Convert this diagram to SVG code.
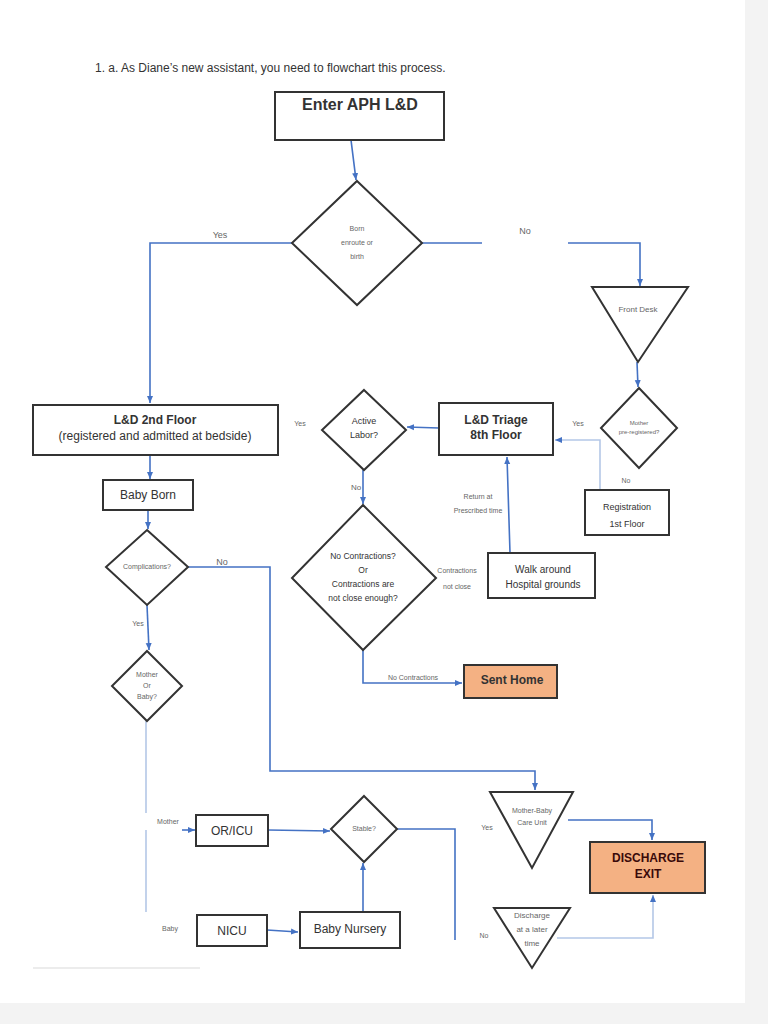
<svg xmlns="http://www.w3.org/2000/svg" width="768" height="1024" viewBox="0 0 768 1024">
<defs>
<marker id="ar" markerWidth="8" markerHeight="8" refX="7" refY="4" orient="auto" markerUnits="userSpaceOnUse"><path d="M0,1 L7,4 L0,7 z" fill="#4472c4"/></marker>
<style>
.b{fill:#fff;stroke:#333;stroke-width:2}
.o{fill:#f4b183;stroke:#333;stroke-width:2}
.c{fill:none;stroke:#4472c4;stroke-width:1.6}
.l{fill:none;stroke:#b4c7e7;stroke-width:1.6}
text{font-family:"Liberation Sans",Arial,sans-serif;fill:#333;text-anchor:middle}
.s{font-size:7px;fill:#666}
.m{font-size:12px}
.h{font-weight:bold}
</style>
</defs>
<rect width="768" height="1024" fill="#f3f3f3"/>
<rect x="0" y="0" width="745" height="1003" fill="#fff"/>
<text x="95" y="72" style="text-anchor:start;font-size:12px">1.   a. As Diane’s new assistant, you need to flowchart this process.</text>
<g id="connectors">
<path class="c" d="M351,140 L356,180" marker-end="url(#ar)"/>
<path class="c" d="M292,243 H150 V403" marker-end="url(#ar)"/>
<path class="c" d="M422,243 H482 M568,243 H640 V286" marker-end="url(#ar)"/>
<path class="c" d="M637,362 L638,387" marker-end="url(#ar)"/>
<path class="l" d="M600,490 V440 H555" marker-end="url(#ar)"/>
<path class="c" d="M439,428 L407,427" marker-end="url(#ar)"/>
<path class="c" d="M363,470 V504" marker-end="url(#ar)"/>
<path class="c" d="M510,553 L507,457" marker-end="url(#ar)"/>
<path class="c" d="M363,650 V683 H462" marker-end="url(#ar)"/>
<path class="c" d="M150,455 V479" marker-end="url(#ar)"/>
<path class="c" d="M148,510 V529" marker-end="url(#ar)"/>
<path class="c" d="M188,567 H270 V771 H535 V790" marker-end="url(#ar)"/>
<path class="c" d="M147,605 L149,650" marker-end="url(#ar)"/>
<path class="l" d="M146,721 V813 M146,830 V912"/>
<path class="c" d="M182,830 H195" marker-end="url(#ar)"/>
<path class="c" d="M268,830 L330,831" marker-end="url(#ar)"/>
<path class="c" d="M267,930 L298,932" marker-end="url(#ar)"/>
<path class="c" d="M363,912 V863" marker-end="url(#ar)"/>
<path class="c" d="M397,829 H455 V940"/>
<path class="c" d="M568,820 H652 V840" marker-end="url(#ar)"/>
<path class="l" d="M557,938 H653 V895" marker-end="url(#ar)"/>
<path d="M33,968 H200" stroke="#e6e6e6" stroke-width="1.5"/>
<text class="s" x="220" y="238" style="font-size:9px">Yes</text>
<text class="s" x="525" y="234" style="font-size:9px">No</text>
<text class="s" x="578" y="426">Yes</text>
<text class="s" x="626" y="483">No</text>
<text class="s" x="300" y="426">Yes</text>
<text class="s" x="356" y="490" style="font-size:8px">No</text>
<text class="s" x="478" y="499">Return at</text>
<text class="s" x="478" y="513">Prescribed time</text>
<text class="s" x="457" y="573">Contractions</text>
<text class="s" x="457" y="589">not close</text>
<text class="s" x="413" y="680">No Contractions</text>
<text class="s" x="222" y="565" style="font-size:9px">No</text>
<text class="s" x="138" y="626">Yes</text>
<text class="s" x="168" y="824">Mother</text>
<text class="s" x="170" y="931">Baby</text>
<text class="s" x="487" y="830">Yes</text>
<text class="s" x="484" y="938">No</text>
</g>
<g id="start"><rect class="b" x="275" y="92" width="169" height="48"/><text x="360" y="110" class="h" style="font-size:16px">Enter APH L&amp;D</text></g>
<g id="born"><polygon class="b" points="357,181 422,243 357,305 292,243"/><text class="s" x="357" y="231">Born</text><text class="s" x="357" y="245">enroute or</text><text class="s" x="357" y="259">birth</text></g>
<g id="frontdesk"><polygon class="b" points="592,287 688,287 638,362"/><text class="s" x="638" y="312" style="font-size:8px">Front Desk</text></g>
<g id="prereg"><polygon class="b" points="639,388 677,428 639,468 601,428"/><text class="s" x="639" y="425" style="font-size:6px">Mother</text><text class="s" x="639" y="434" style="font-size:6px">pre-registered?</text></g>
<g id="registration"><rect class="b" x="585" y="490" width="84" height="45"/><text x="627" y="510" style="font-size:9px">Registration</text><text x="627" y="527" style="font-size:9px">1st Floor</text></g>
<g id="triage"><rect class="b" x="439" y="403" width="114" height="52"/><text x="496" y="424" class="h m">L&amp;D Triage</text><text x="496" y="439" class="h m">8th Floor</text></g>
<g id="active"><polygon class="b" points="364,390 406,430 364,470 322,430"/><text x="364" y="424" style="font-size:9px">Active</text><text x="364" y="438" style="font-size:9px">Labor?</text></g>
<g id="nocontr"><polygon class="b" points="363,505 436,578 363,650 292,578"/><text x="363" y="559" style="font-size:8.5px">No Contractions?</text><text x="363" y="573" style="font-size:8.5px">Or</text><text x="363" y="587" style="font-size:8.5px">Contractions are</text><text x="363" y="601" style="font-size:8.5px">not close enough?</text></g>
<g id="walk"><rect class="b" x="488" y="553" width="107" height="45"/><text x="543" y="573" style="font-size:10px">Walk around</text><text x="543" y="588" style="font-size:10px">Hospital grounds</text></g>
<g id="senthome"><rect class="o" x="464" y="665" width="93" height="33"/><text x="512" y="684" class="h m">Sent Home</text></g>
<g id="ld2"><rect class="b" x="33" y="405" width="245" height="50"/><text x="155" y="424" class="h m">L&amp;D 2nd Floor</text><text x="155" y="440" class="m">(registered and admitted at bedside)</text></g>
<g id="babyborn"><rect class="b" x="103" y="480" width="90" height="30"/><text x="148" y="499" class="m">Baby Born</text></g>
<g id="complications"><polygon class="b" points="147,530 188,567 147,605 106,567"/><text class="s" x="147" y="569">Complications?</text></g>
<g id="motherbaby"><polygon class="b" points="147,651 182,686 147,721 112,686"/><text class="s" x="147" y="677">Mother</text><text class="s" x="147" y="688">Or</text><text class="s" x="147" y="699">Baby?</text></g>
<g id="oricu"><rect class="b" x="196" y="815" width="72" height="31"/><text x="232" y="835" class="m">OR/ICU</text></g>
<g id="nicu"><rect class="b" x="197" y="915" width="70" height="31"/><text x="232" y="935" class="m">NICU</text></g>
<g id="nursery"><rect class="b" x="300" y="912" width="100" height="36"/><text x="350" y="933" class="m">Baby Nursery</text></g>
<g id="stable"><polygon class="b" points="364,796 397,829 364,862 331,829"/><text class="s" x="364" y="831">Stable?</text></g>
<g id="mbcu"><polygon class="b" points="490,792 573,792 532,868"/><text class="s" x="532" y="813">Mother-Baby</text><text class="s" x="532" y="825">Care Unit</text></g>
<g id="discharge"><rect class="o" x="590" y="842" width="115" height="51"/><text x="648" y="862" class="h m" style="fill:#3a0a0a">DISCHARGE</text><text x="648" y="878" class="h m" style="fill:#3a0a0a">EXIT</text></g>
<g id="later"><polygon class="b" points="494,908 570,908 532,968"/><text class="s" x="532" y="918" style="font-size:8px">Discharge</text><text class="s" x="532" y="932" style="font-size:8px">at a later</text><text class="s" x="532" y="946" style="font-size:8px">time</text></g>
</svg>
